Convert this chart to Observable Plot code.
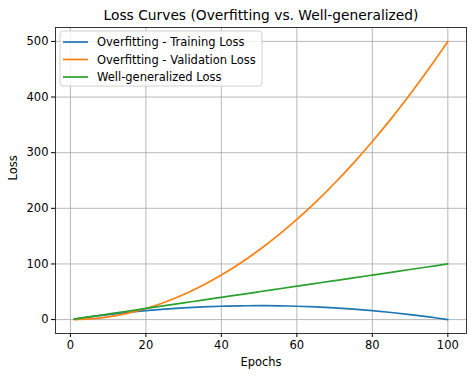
<!DOCTYPE html>
<html><head><meta charset="utf-8">
<script src="https://cdn.jsdelivr.net/npm/d3@7"></script>
<script src="https://cdn.jsdelivr.net/npm/@observablehq/plot@0.6"></script>
<style>body{margin:0;background:#fff;} #chart{width:474px;height:377px;}</style>
</head><body><div id="chart"></div>
<script>
const epochs = [1,5,10,15,20,25,30,35,40,45,50,55,60,65,70,75,80,85,90,95,100];
const trainLoss = [1,4.75,9,12.75,16,18.75,21,22.75,24,24.75,25,24.75,24,22.75,21,18.75,16,12.75,9,4.75,0];
const valLoss = [0.05,1.25,5,11.25,20,31.25,45,61.25,80,101.25,125,151.25,180,211.25,245,281.25,320,361.25,405,451.25,500];
const wellLoss = [1,5,10,15,20,25,30,35,40,45,50,55,60,65,70,75,80,85,90,95,100];
const seriesNames = ["Overfitting - Training Loss","Overfitting - Validation Loss","Well-generalized Loss"];
const seriesColors = ["#1f77b4","#ff7f0e","#2ca02c"];
const xTicks = [0,20,40,60,80,100];
const yTicks = [0,100,200,300,400,500];
const titleText = "Loss Curves (Overfitting vs. Well-generalized)";
const xLabel = "Epochs";
const yLabel = "Loss";

const rows = [];
[trainLoss, valLoss, wellLoss].forEach((vals, i) =>
  vals.forEach((v, j) => rows.push({epoch: epochs[j], loss: v, series: seriesNames[i]})));

const font = "DejaVu Sans, sans-serif";
const fs = 11.5;
const svg = Plot.plot({
  width: 474, height: 377,
  marginLeft: 55, marginRight: 8, marginTop: 27, marginBottom: 44,
  style: {fontFamily: font, fontSize: fs + "px", color: "#000", background: "#fff"},
  x: {domain: [-3.95, 104.95]},
  y: {domain: [-25, 525]},
  color: {domain: seriesNames, range: seriesColors},
  marks: [
    Plot.gridX(xTicks, {stroke: "#b0b0b0", strokeOpacity: 1, strokeWidth: 0.9}),
    Plot.gridY(yTicks, {stroke: "#b0b0b0", strokeOpacity: 1, strokeWidth: 0.9}),
    Plot.line(rows, {x: "epoch", y: "loss", z: "series", stroke: "series", strokeWidth: 1.7, curve: "catmull-rom"}),
    Plot.frame({stroke: "#222", strokeWidth: 0.9}),
    Plot.axisX(xTicks, {tickSize: 4, tickPadding: 3, label: null, fontSize: fs}),
    Plot.axisY(yTicks, {tickSize: 4, tickPadding: 3, label: null, fontSize: fs}),
    Plot.text([titleText], {text: d => d, frameAnchor: "top", lineAnchor: "middle", dy: -12, fontSize: 13.8, fill: "#000"}),
    Plot.text([xLabel], {text: d => d, frameAnchor: "bottom", lineAnchor: "middle", dy: 29, fontSize: fs, fill: "#000"}),
    Plot.text([yLabel], {text: d => d, frameAnchor: "left", lineAnchor: "middle", dx: -42, rotate: -90, fontSize: fs, fill: "#000"})
  ]
});
document.getElementById("chart").appendChild(svg);

// legend
const lg = d3.select(svg).append("g").attr("font-family", font).attr("font-size", fs + "px").attr("text-anchor", "start");
lg.append("rect").attr("x", 60).attr("y", 31).attr("width", 202).attr("height", 55)
  .attr("rx", 3).attr("fill", "#fff").attr("fill-opacity", 0.8).attr("stroke", "#cccccc").attr("stroke-width", 0.9);
seriesNames.forEach((name, i) => {
  const y = 42 + i * 17.5;
  lg.append("line").attr("x1", 63).attr("x2", 88).attr("y1", y).attr("y2", y)
    .attr("stroke", seriesColors[i]).attr("stroke-width", 1.7);
  lg.append("text").attr("x", 97).attr("y", y).attr("dy", "0.35em").attr("fill", "#000").attr("text-anchor", "start").text(name);
});
</script></body></html>
